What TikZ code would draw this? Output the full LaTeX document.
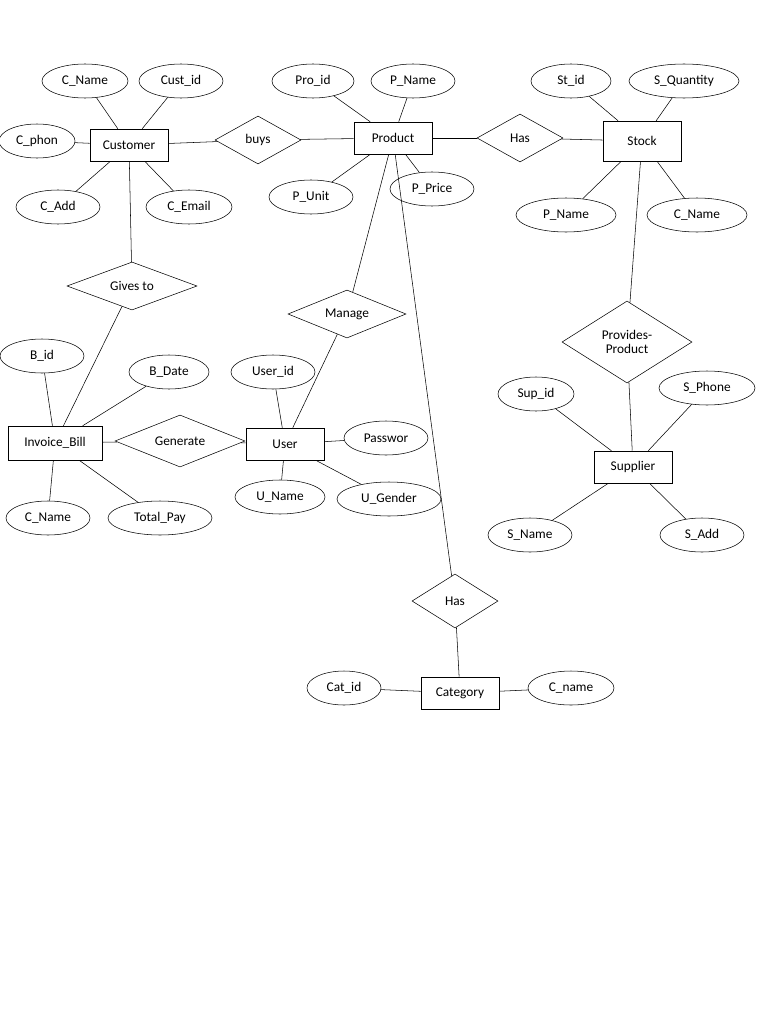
\documentclass[tikz,border=0pt]{standalone}
\usepackage{fontspec}
\setmainfont{Carlito}
\usetikzlibrary{shapes.geometric}
\begin{document}
\begin{tikzpicture}[x=0.75pt,y=-0.75pt,
  every node/.style={font=\fontsize{10}{12}\selectfont},
  ent/.style={draw,rectangle,minimum width=58.5pt,minimum height=24pt,inner sep=0pt},
  att/.style={draw,ellipse,minimum height=25.5pt,minimum width=#1*0.75pt,inner sep=0pt},
  rel/.style={draw,diamond,minimum height=36pt,minimum width=#1*0.75pt,inner sep=0pt,aspect=2}]
\useasboundingbox (0,0) rectangle (768,1024);
\fill[white] (0,0) rectangle (768,1024);
% entities
\node[ent] (cust) at (129,145) {Customer};
\node[ent] (prod) at (393,138) {Product};
\node[ent,minimum height=30pt] (stock) at (642,141) {Stock};
\node[ent,minimum width=70.5pt,minimum height=25.5pt] (inv) at (55,443) {Invoice\_Bill};
\node[ent] (user) at (285,444) {User};
\node[ent] (sup) at (633,467) {Supplier};
\node[ent] (cat) at (460,693) {Category};
% relationships
\node[rel=86] (buys) at (258,140) {buys};
\node[rel=86] (has1) at (520,138) {Has};
\node[rel=130] (gives) at (132,286) {Gives to};
\node[rel=118] (manage) at (347,314) {Manage};
\node[rel=130,minimum height=61.5pt] (prov) at (627,342) {\shortstack{Provides-\\Product}};
\node[rel=130,minimum height=39pt] (gen) at (180,441) {Generate};
\node[rel=86,minimum height=40.5pt] (has2) at (455,601) {Has};
% attributes
\node[att=86] (cname) at (85,81) {C\_Name};
\node[att=84] (custid) at (181,81) {Cust\_id};
\node[att=76] (cphon) at (37,141) {C\_phon};
\node[att=84] (cadd) at (58,207) {C\_Add};
\node[att=86] (cemail) at (189,207) {C\_Email};
\node[att=82] (proid) at (313,81) {Pro\_id};
\node[att=84] (pname) at (413,81) {P\_Name};
\node[att=84] (punit) at (311,197) {P\_Unit};
\node[att=84] (pprice) at (432,189) {P\_Price};
\node[att=80] (stid) at (571,81) {St\_id};
\node[att=110] (squant) at (684,81) {S\_Quantity};
\node[att=100] (pname2) at (566,215) {P\_Name};
\node[att=100] (cname2) at (697,215) {C\_Name};
\node[att=84] (bid) at (42,356) {B\_id};
\node[att=80] (bdate) at (169,372) {B\_Date};
\node[att=84] (userid) at (273,372) {User\_id};
\node[att=84] (passw) at (386,438) {Passwor};
\node[att=90] (uname) at (280,497) {U\_Name};
\node[att=104] (ugen) at (389,499) {U\_Gender};
\node[att=84] (cname3) at (48,518) {C\_Name};
\node[att=104] (total) at (160,518) {Total\_Pay};
\node[att=76] (supid) at (536,394) {Sup\_id};
\node[att=96] (sphone) at (707,388) {S\_Phone};
\node[att=84] (sname) at (530,535) {S\_Name};
\node[att=84] (sadd) at (702,535) {S\_Add};
\node[att=74] (catid) at (344,688) {Cat\_id};
\node[att=86] (cname4) at (571,688) {C\_name};
% connectors
\foreach \a/\b in {cname/cust,custid/cust,cphon/cust,cadd/cust,cemail/cust,
  cust/buys,buys/prod,proid/prod,pname/prod,punit/prod,pprice/prod,prod/has1,has1/stock,
  stid/stock,squant/stock,pname2/stock,cname2/stock,stock/prov,prov/sup,
  supid/sup,sphone/sup,sname/sup,sadd/sup,cust/gives,gives/inv,
  bid/inv,bdate/inv,cname3/inv,total/inv,inv/gen,gen/user,
  userid/user,passw/user,uname/user,ugen/user,prod/manage,manage/user,
  prod/has2,has2/cat,catid/cat,cname4/cat}
  \draw (\a) -- (\b);
\end{tikzpicture}
\end{document}
